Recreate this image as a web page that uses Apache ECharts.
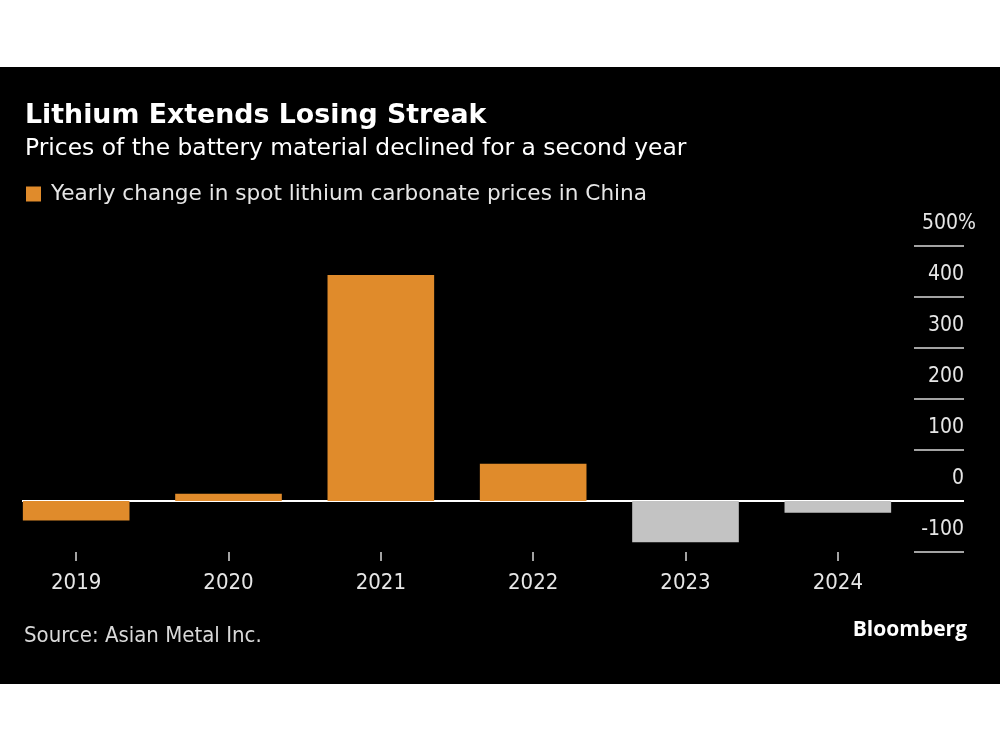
<!DOCTYPE html>
<html>
<head>
<meta charset="utf-8">
<script src="https://cdn.jsdelivr.net/npm/echarts@6/dist/echarts.min.js"></script>
<style>
  html, body { margin: 0; padding: 0; background: #fff; }
  #chart { width: 1000px; height: 750px; }
</style>
</head>
<body>
<div id="chart"></div>
<script>
const categories = ['2019', '2020', '2021', '2022', '2023', '2024'];
const yearlyChange = [-38, 14, 443, 73, -81, -23];
const recentYears = ['2023', '2024'];
const yTicks = [-100, 0, 100, 200, 300, 400, 500];

const titleText = 'Lithium Extends Losing Streak';
const subtitleText = 'Prices of the battery material declined for a second year';
const seriesName = 'Yearly change in spot lithium carbonate prices in China';
const sourceText = 'Source: Asian Metal Inc.';

const ORANGE = '#E08B2B';
const GREY = '#C3C3C3';
const FONT = '"DejaVu Sans", sans-serif';
const FONT_C = '"DejaVu Sans Condensed", "DejaVu Sans", sans-serif';

const chart = echarts.init(document.getElementById('chart'));
chart.setOption({
  backgroundColor: '#ffffff',
  animation: false,
  graphic: [
    { type: 'rect', z: -10, shape: { x: 0, y: 67, width: 1000, height: 617 }, style: { fill: '#000000' } },
    { type: 'text', left: 24, top: 625, style: { text: sourceText, fill: '#d9d9d9', font: '22px ' + FONT_C } },
    { type: 'text', right: 33, top: 620, style: { text: 'Bloomberg', fill: '#ffffff', font: 'bold 21px "Open Sans", sans-serif' } }
  ],
  title: [
    { text: titleText, left: 20, top: 98, textStyle: { color: '#ffffff', fontSize: 26.8, fontWeight: 'bold', fontFamily: FONT } },
    { text: subtitleText, left: 20, top: 132, textStyle: { color: '#ffffff', fontSize: 23.4, fontWeight: 'normal', fontFamily: FONT } }
  ],
  legend: {
    left: 21, top: 178,
    icon: 'rect', itemWidth: 15, itemHeight: 15,
    textStyle: { color: '#e6e6e6', fontSize: 21.6, fontFamily: FONT, padding: [0, 0, 0, 5] },
    data: [{ name: seriesName, itemStyle: { color: ORANGE } }]
  },
  grid: { left: 0, right: 86, top: 246, bottom: 198, containLabel: false },
  xAxis: {
    type: 'category',
    data: categories,
    axisLine: { show: false, onZero: false },
    axisTick: { show: true, alignWithLabel: true, length: 9, lineStyle: { color: '#d9d9d9', width: 1.5 } },
    axisLabel: { color: '#e6e6e6', fontSize: 22, fontFamily: FONT_C, margin: 20 }
  },
  yAxis: {
    type: 'value',
    position: 'right',
    min: -100, max: 500, interval: 100,
    splitLine: { show: false },
    axisLine: { show: false },
    axisTick: { show: true, inside: false, length: 50, lineStyle: { color: '#d9d9d9', width: 1.5 } },
    axisLabel: {
      color: '#e6e6e6', fontSize: 21, fontFamily: FONT_C,
      align: 'right', margin: 62, verticalAlign: 'bottom', padding: [0, 0, 12, 0],
      formatter: function (v) { return v === yTicks[yTicks.length - 1] ? v + '%' : v + '{s| }'; },
      rich: { s: { width: 12, fontSize: 21 } }
    }
  },
  series: [{
    name: seriesName,
    type: 'bar',
    data: yearlyChange,
    barWidth: '70%',
    itemStyle: {
      color: function (p) { return recentYears.indexOf(categories[p.dataIndex]) >= 0 ? GREY : ORANGE; }
    },
    markLine: {
      silent: true, symbol: 'none', z: 1,
      label: { show: false },
      lineStyle: { color: '#ffffff', width: 2, type: 'solid' },
      data: [[{ x: 22, yAxis: 0 }, { x: 964, yAxis: 0 }]]
    }
  }]
});
</script>
</body>
</html>
